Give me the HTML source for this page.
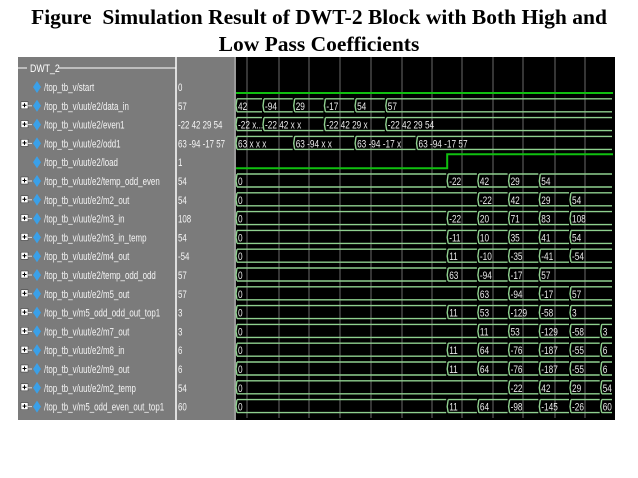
<!DOCTYPE html>
<html><head><meta charset="utf-8"><style>
body{margin:0;width:638px;height:478px;background:#fff;overflow:hidden;position:relative;font-family:"Liberation Sans",sans-serif}
#title{position:absolute;left:0;top:4px;width:638px;text-align:center;font-family:"Liberation Serif",serif;font-weight:bold;font-size:21.5px;line-height:27px;color:#000;white-space:nowrap}
svg{position:absolute;left:0;top:0}
</style></head><body>
<div id="title">Figure&nbsp; Simulation Result of DWT-2 Block with Both High and<br>Low Pass Coefficients</div>
<svg id="sv" width="638" height="478"></svg>
<script>
const names=["/top_tb_v/start","/top_tb_v/uut/e2/data_in","/top_tb_v/uut/e2/even1","/top_tb_v/uut/e2/odd1","/top_tb_v/uut/e2/load","/top_tb_v/uut/e2/temp_odd_even","/top_tb_v/uut/e2/m2_out","/top_tb_v/uut/e2/m3_in","/top_tb_v/uut/e2/m3_in_temp","/top_tb_v/uut/e2/m4_out","/top_tb_v/uut/e2/temp_odd_odd","/top_tb_v/uut/e2/m5_out","/top_tb_v/m5_odd_odd_out_top1","/top_tb_v/uut/e2/m7_out","/top_tb_v/uut/e2/m8_in","/top_tb_v/uut/e2/m9_out","/top_tb_v/uut/e2/m2_temp","/top_tb_v/m5_odd_even_out_top1"];
const cursorValues=["0","57","-22 42 29 54","63 -94 -17 57","1","54","54","108","54","-54","57","57","3","3","6","6","54","60"];
const isBit=[1,0,0,0,1,0,0,0,0,0,0,0,0,0,0,0,0,0];
const sig0=[[-1,"0"]];
const sig1=[[-1,"42"],[0,"-94"],[1,"29"],[2,"-17"],[3,"54"],[4,"57"]];
const sig2=[[-1,"-22 x..."],[0,"-22 42 x x"],[2,"-22 42 29 x"],[4,"-22 42 29 54"]];
const sig3=[[-1,"63 x x x"],[1,"63 -94 x x"],[3,"63 -94 -17 x"],[5,"63 -94 -17 57"]];
const sig4=[[-1,"0"],[6,"1"]];
const sig5=[[-1,"0"],[6,"-22"],[7,"42"],[8,"29"],[9,"54"]];
const sig6=[[-1,"0"],[7,"-22"],[8,"42"],[9,"29"],[10,"54"]];
const sig7=[[-1,"0"],[6,"-22"],[7,"20"],[8,"71"],[9,"83"],[10,"108"]];
const sig8=[[-1,"0"],[6,"-11"],[7,"10"],[8,"35"],[9,"41"],[10,"54"]];
const sig9=[[-1,"0"],[6,"11"],[7,"-10"],[8,"-35"],[9,"-41"],[10,"-54"]];
const sig10=[[-1,"0"],[6,"63"],[7,"-94"],[8,"-17"],[9,"57"]];
const sig11=[[-1,"0"],[7,"63"],[8,"-94"],[9,"-17"],[10,"57"]];
const sig12=[[-1,"0"],[6,"11"],[7,"53"],[8,"-129"],[9,"-58"],[10,"3"]];
const sig13=[[-1,"0"],[7,"11"],[8,"53"],[9,"-129"],[10,"-58"],[11,"3"]];
const sig14=[[-1,"0"],[6,"11"],[7,"64"],[8,"-76"],[9,"-187"],[10,"-55"],[11,"6"]];
const sig15=[[-1,"0"],[6,"11"],[7,"64"],[8,"-76"],[9,"-187"],[10,"-55"],[11,"6"]];
const sig16=[[-1,"0"],[8,"-22"],[9,"42"],[10,"29"],[11,"54"]];
const sig17=[[-1,"0"],[6,"11"],[7,"64"],[8,"-98"],[9,"-145"],[10,"-26"],[11,"60"]];
const sigs=[sig0,sig1,sig2,sig3,sig4,sig5,sig6,sig7,sig8,sig9,sig10,sig11,sig12,sig13,sig14,sig15,sig16,sig17];

const NS="http://www.w3.org/2000/svg",sv=document.getElementById('sv');
function mk(t,a,p){const e=document.createElementNS(NS,t);for(const k in a)e.setAttribute(k,a[k]);(p||sv).appendChild(e);return e;}
function txt(s,x,y,sx,size,fill){const e=mk('text',{x:0,y:0,fill:fill,'font-size':size,transform:`translate(${x},${y}) scale(${sx},1)`});e.textContent=s;return e;}
const X0=18,X1=615,Y0=57,Y1=420,NX=176,VX=234,WX=236,WEND=613;
const rowY=i=>87+i*18.8;
const tX=k=>k<0?WX:263+30.7*k;
const gridX=[247,279,309,340,371,402,432,462,493,523,555,585];

let e=mk('rect',{x:X0,y:Y0,width:VX-X0,height:Y1-Y0,fill:'#7b7b7b'});

e=mk('rect',{x:WX-2,y:Y0,width:X1-WX+2,height:Y1-Y0,fill:'#000'});

mk('rect',{x:VX,y:Y0,width:2,height:Y1-Y0,fill:'#9a9a9a'});
mk('line',{x1:NX,y1:Y0,x2:NX,y2:Y1,stroke:'#fff','stroke-width':1.5});
mk('line',{x1:X0,y1:68,x2:27,y2:68,stroke:'#fff'});
mk('line',{x1:59,y1:68,x2:NX,y2:68,stroke:'#fff'});
e=txt('DWT_2',30,72,0.8,11,'#fff');

gridX.forEach(g=>mk('line',{x1:g,y1:Y0,x2:g,y2:Y1-2,stroke:'#6a6a6a','stroke-width':1}));

const G='#8fd08f',GB='#10c010';
names.forEach((n,i)=>{
  const y=rowY(i);
  if(!isBit[i]){mk('rect',{x:21,y:y-4,width:7,height:7,fill:'#fff',stroke:'#333','stroke-width':0.5});mk('line',{x1:22.5,y1:y-0.5,x2:26.5,y2:y-0.5,stroke:'#000'});mk('line',{x1:24.5,y1:y-2.5,x2:24.5,y2:y+1.5,stroke:'#000'});mk('line',{x1:28,y1:y,x2:32,y2:y,stroke:'#ddd'});}
  mk('polygon',{points:`${37},${y-6} ${41},${y} ${37},${y+6} ${33},${y}`,fill:'#3aa0e8'});
  let t=txt(n,44,y+4,0.72,11,'#f4f4f4');
  
  t=txt(cursorValues[i],178,y+4,0.72,11,'#f4f4f4');
  
  const s=sigs[i];
  if(isBit[i]){
    let d='';
    s.forEach((p,j)=>{const x=tX(p[0]),xe=j+1<s.length?tX(s[j+1][0]):WEND,ly=p[1]==='1'?y-8:y+6;d+=(j?'L':'M')+x+','+ly+' L'+xe+','+ly+' ';});
    const w=mk('path',{d:d,stroke:GB,'stroke-width':2,fill:'none'});
    
  }else{
    s.forEach((p,j)=>{
      const x=tX(p[0]),xe=j+1<s.length?tX(s[j+1][0]):WEND,top=y-7,bot=y+6;
      const w=mk('path',{d:`M${x+1},${top} L${xe-1},${top} M${x+1},${bot} L${xe-1},${bot} M${x+1},${top} L${x},${y} L${x+1},${bot}`,stroke:G,'stroke-width':1.4,fill:'none'});
      
      const l=txt(p[1],x+2,y+4,0.75,11,'#e8e8e8');
      
    });
  }
});
</script>
</body></html>
